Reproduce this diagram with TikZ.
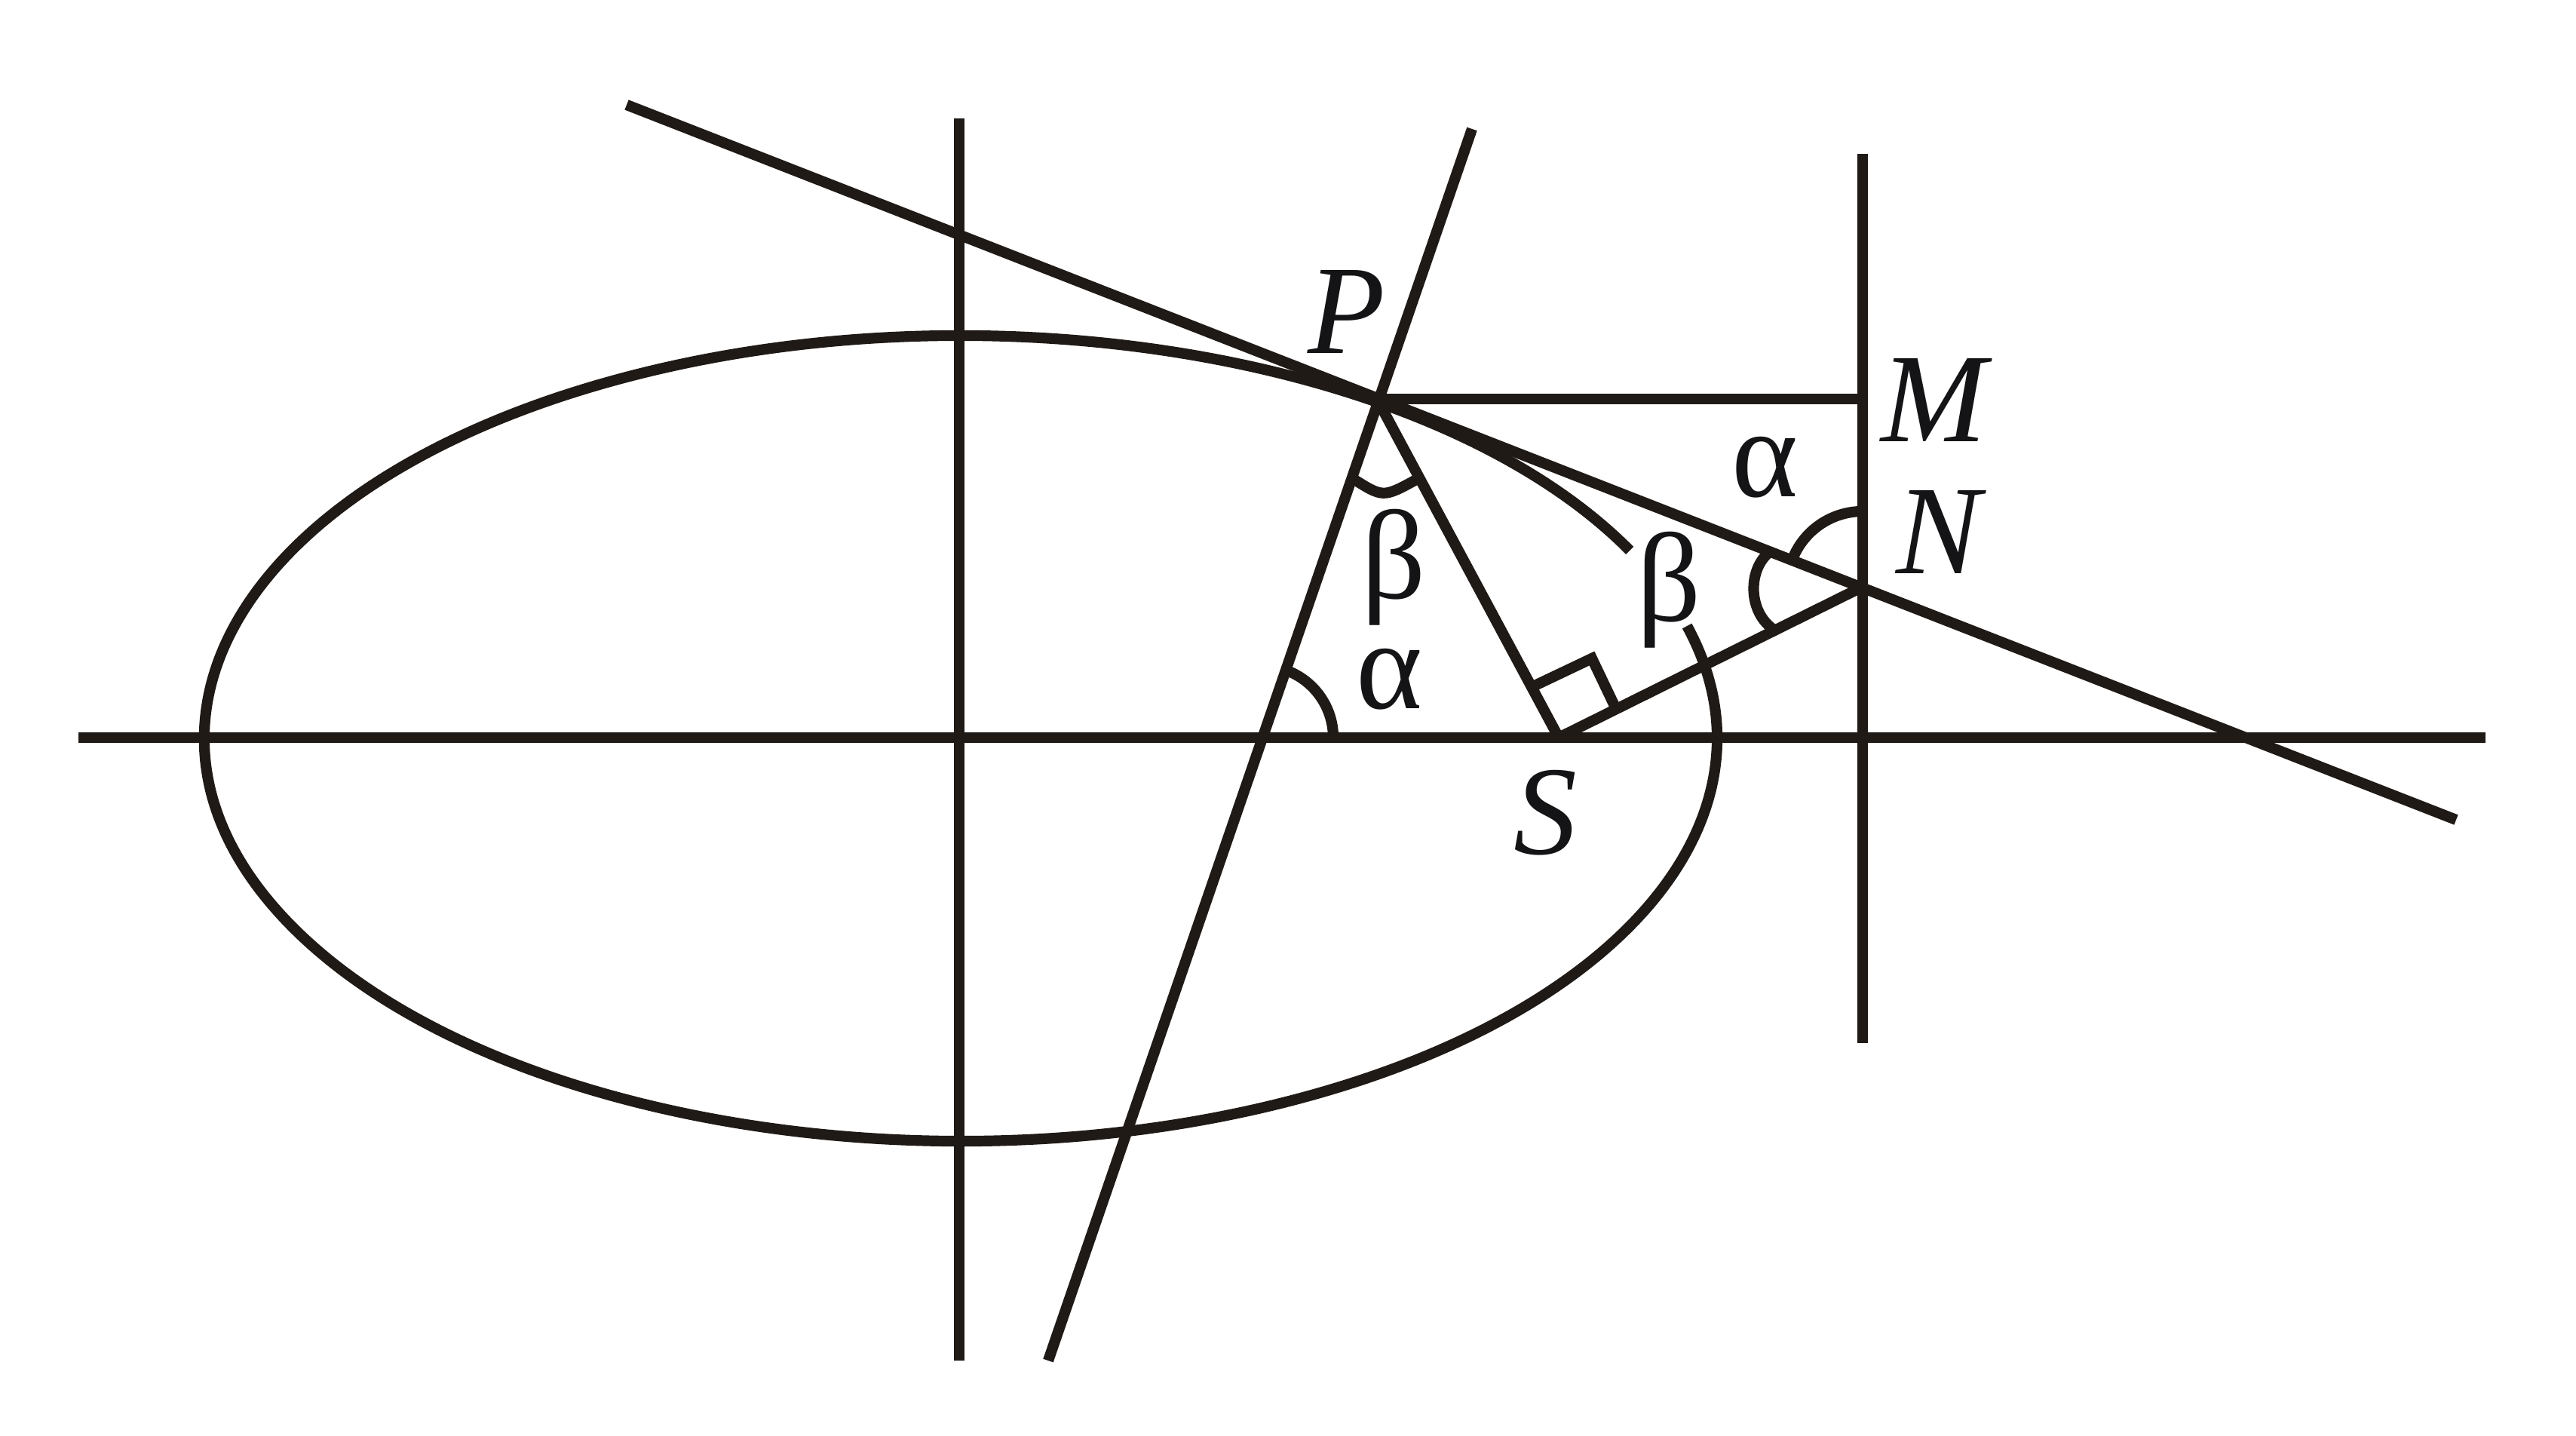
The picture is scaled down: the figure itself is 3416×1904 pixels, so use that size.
\documentclass[tikz,border=0pt]{standalone}
\usepackage{fontspec}
\setmainfont{Liberation Serif}
\begin{document}
\begin{tikzpicture}[x=0.25pt,y=0.25pt,
  geo/.style={draw=lc,line width=3.55pt,line cap=butt,line join=miter},
  lab/.style={inner sep=0pt,text=txt,font=\fontsize{42}{50}\selectfont}]
\definecolor{lc}{RGB}{32,26,23}
\definecolor{txt}{RGB}{20,20,22}
\useasboundingbox (0,0) rectangle (3416,-1904);
\fill[white] (0,0) rectangle (3416,-1904);
% key points
\coordinate (O) at (1274,-979);
\coordinate (AxL) at (104,-978);
\coordinate (AxR) at (3296,-978);
\coordinate (VT) at (1272,-157);
\coordinate (VB) at (1272,-1804);
\coordinate (DT) at (2470,-204);
\coordinate (DB) at (2470,-1383);
\coordinate (P) at (1826,-529);
\coordinate (M) at (2470,-529);
\coordinate (N) at (2470,-778);
\coordinate (S) at (2067,-978);
\coordinate (T1) at (831,-139);
\coordinate (T2) at (3257,-1087);
\coordinate (Q1) at (1952,-171);
\coordinate (Q2) at (1390,-1804);
\coordinate (I) at (1673,-978);
% axes and directrix
\draw[geo] (AxL) -- (AxR);
\draw[geo] (VT) -- (VB);
\draw[geo] (DT) -- (DB);
% ellipse with gap for the label
\draw[geo] ([shift={(27.8:1003 and 534)}]O) arc[start angle=27.8,end angle=376.2,x radius=1003,y radius=534];
% tangent, normal-ish line, segments
\draw[geo] (T1) -- (T2);
\draw[geo] (Q1) -- (Q2);
\draw[geo] (P) -- (M);
\draw[geo] (P) -- (S);
\draw[geo] (S) -- (N);
% right angle mark at S
\coordinate (RA1) at (2031,-911);
\coordinate (RA2) at (2111,-873);
\coordinate (RA3) at (2143,-940);
\draw[geo] (RA1) -- (RA2) -- (RA3);
% angle arcs
\coordinate (BA1) at (1793,-634);
\coordinate (BA2) at (1878,-636);
\draw[geo] (BA1) .. controls (1834,-660) .. (BA2);
\draw[geo] ([shift={(0:95)}]I) arc[start angle=0,end angle=71,radius=95];
\draw[geo] ([shift={(90:100)}]N) arc[start angle=90,end angle=158.8,radius=100];
\coordinate (NA1) at (2348,-731);
\coordinate (NA2) at (2354,-836);
\draw[geo] (NA1) .. controls (2318,-752) and (2316,-812) .. (NA2);
% labels
\node[lab] (lP) at (1786,-413) {\textit{P}};
\node[lab] (lM) at (2568,-530) {\textit{M}};
\node[lab] (lN) at (2574,-705) {\textit{N}};
\node[lab] (lS) at (2049,-1078) {\textit{S}};
\node[lab] (la1) at (2340,-620) {α};
\node[lab] (lb1) at (2213,-782) {β};
\node[lab] (lb2) at (1848,-752) {β};
\node[lab] (la2) at (1842,-901) {α};
\end{tikzpicture}
\end{document}
